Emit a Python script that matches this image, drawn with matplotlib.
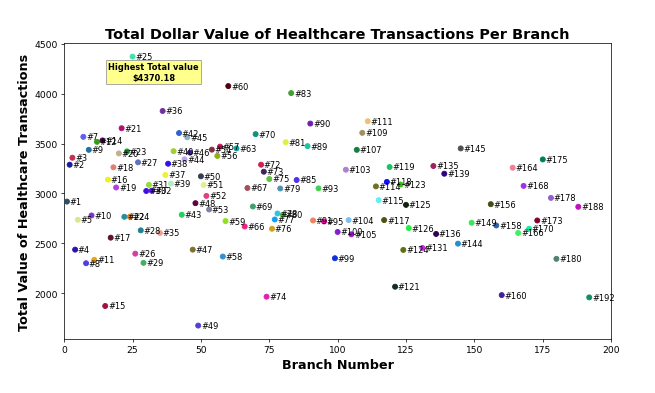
import matplotlib
matplotlib.use("Agg")
import matplotlib.pyplot as plt

branches = [1, 2, 3, 4, 5, 7, 8, 9, 10, 11, 12, 14, 15, 16, 17, 18, 19, 20,
            21, 22, 23, 24, 25, 26, 27, 28, 29, 30, 31, 32, 35, 36, 37, 38,
            39, 40, 42, 43, 44, 45, 46, 47, 48, 49, 50, 51, 52, 53, 54, 56,
            57, 58, 59, 60, 63, 66, 67, 69, 70, 72, 73, 74, 75, 76, 77, 78,
            79, 80, 81, 83, 85, 89, 90, 91, 93, 95, 99, 100, 103, 104, 105,
            107, 109, 111, 114, 115, 117, 118, 119, 121, 123, 124, 125, 126,
            131, 135, 136, 139, 144, 145, 149, 156, 158, 160, 164, 166, 168,
            170, 173, 175, 178, 180, 188, 192]

totals = [2919, 3288, 3358, 2438, 2737, 3567, 2302, 3437, 2780, 2336, 3517,
          3531, 1874, 3139, 2558, 3262, 3060, 3401, 3653, 2767, 3421, 2767,
          4370.18, 2398, 3312, 2631, 2306, 3025, 3086, 3028, 2605, 3826, 3185,
          3298, 3099, 3424, 3605, 2787, 3342, 3562, 3409, 2438, 2903, 1678,
          3172, 3085, 2976, 2840, 3439, 3376, 3469, 2369, 2724, 4075, 3451,
          2670, 3055, 2870, 3594, 3288, 3218, 1967, 3145, 2647, 2740, 2800,
          3050, 2787, 3514, 4005, 3135, 3474, 3700, 2730, 3051, 2720, 2352,
          2615, 3238, 2734, 2591, 3437, 3607, 3723, 3071, 2933, 2734, 3116,
          3265, 2067, 3090, 2435, 2886, 2654, 2455, 3275, 2595, 3198, 2498,
          3451, 2707, 2893, 2680, 1983, 3258, 2605, 3076, 2647, 2730, 3341,
          2956, 2346, 2867, 1960]

colors = ["#2f4f60", "#1a1aa0", "#c03050", "#3010b0", "#d8e890", "#6060f0",
          "#5040e0", "#2070a0", "#8030d0", "#f0a010", "#30a010", "#500050",
          "#a01040", "#f0f020", "#601030", "#e08070", "#b040e0", "#c0b090",
          "#b01070", "#2090a0", "#10a030", "#e08020", "#40e0b0", "#d040a0",
          "#6070c0", "#208090", "#40b060", "#4010e0", "#90e030", "#5020d0",
          "#f0a090", "#7030a0", "#f0f030", "#3010f0", "#b0f0c0", "#a0d030",
          "#3060d0", "#20d060", "#c0a0f0", "#90b0c0", "#402090", "#807030",
          "#600040", "#5040d0", "#304050", "#e0f090", "#e04080", "#8080a0",
          "#803040", "#90b010", "#d01060", "#3090d0", "#90e020", "#500010",
          "#10a0a0", "#f02080", "#a05060", "#40a070", "#109080", "#d02050",
          "#402060", "#e020b0", "#60c040", "#d0a020", "#10a0f0", "#30c0e0",
          "#5090b0", "#40c030", "#e0f040", "#40a030", "#5030f0", "#20c0a0",
          "#7020b0", "#f08060", "#40d050", "#f000a0", "#1030e0", "#8020d0",
          "#b080d0", "#80c0f0", "#a010d0", "#108040", "#a09060", "#f0c070",
          "#707020", "#60f0f0", "#505010", "#1010f0", "#20c060", "#103020",
          "#30c010", "#607010", "#102010", "#20f040", "#c030e0", "#a02060",
          "#300050", "#300080", "#2090d0", "#505050", "#40e060", "#405010",
          "#3060a0", "#4020a0", "#f08090", "#40f060", "#a030f0", "#10f0a0",
          "#800030", "#008050", "#9060d0", "#508070", "#c010c0", "#109060"]

title = "Total Dollar Value of Healthcare Transactions Per Branch"
xlabel = "Branch Number"
ylabel = "Total Value of Healthcare Transactions"

fig = plt.figure(figsize=(10, 6.015), dpi=65.5)
ax = fig.add_axes([0.098, 0.137, 0.835, 0.751])

ax.scatter(branches, totals, c=colors, s=30, zorder=3)
for b, t in zip(branches, totals):
    ax.annotate(f"#{b}", (b, t), xytext=(3, 0), textcoords="offset points",
                fontsize=9, va="center", ha="left", zorder=4)

imax = totals.index(max(totals))
ax.annotate(f"Highest Total value\n${totals[imax]:.2f}",
            (branches[imax], totals[imax]), xytext=(23, -17),
            textcoords="offset points", ha="center", va="center",
            fontsize=9, fontweight="bold",
            bbox=dict(boxstyle="square,pad=0.3", fc="#ffff80", ec="#999999",
                      alpha=0.9), zorder=5)

ax.set_xlim(0, 200)
ax.set_title(title, fontsize=16, fontweight="bold")
ax.set_xlabel(xlabel, fontsize=14, fontweight="bold")
ax.set_ylabel(ylabel, fontsize=14, fontweight="bold")

fig.savefig("out.png", dpi=65.5)
